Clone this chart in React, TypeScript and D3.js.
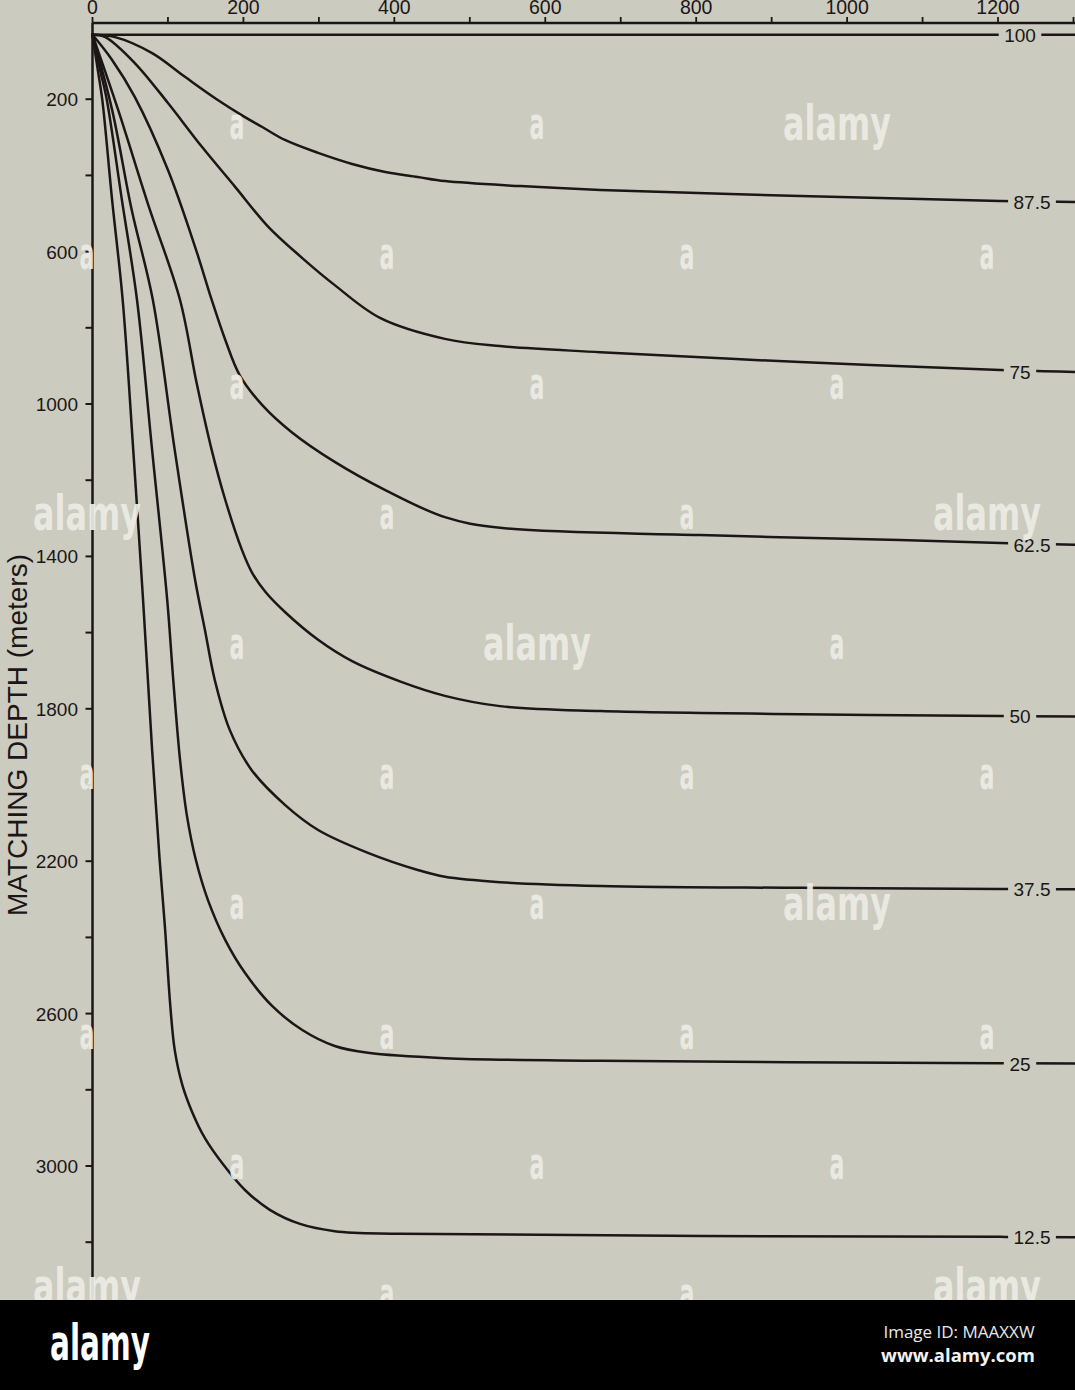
import React from "react";
import * as d3 from "d3";

// ---- data (x: horizontal distance units, depth: meters) ----
const CURVE_LABELS = ["100", "87.5", "75", "62.5", "50", "37.5", "25", "12.5"];

const C100 = [[0, 31], [1310, 31]];
const C875 = [[0, 31], [30, 37], [79, 79], [123, 142], [166, 202], [202, 247], [225, 273], [255, 307], [299, 341], [344, 370], [388, 391], [431, 404], [467, 415], [567, 428], [673, 438], [938, 454], [1203, 467], [1310, 470]];
const C75 = [[0, 31], [17, 37], [56, 105], [100, 210], [145, 325], [189, 430], [233, 535], [278, 617], [321, 688], [381, 774], [467, 829], [540, 848], [673, 864], [938, 890], [1203, 911], [1310, 916]];
const C625 = [[0, 31], [26, 97], [56, 194], [100, 386], [136, 588], [158, 727], [176, 832], [195, 924], [225, 1003], [264, 1074], [321, 1152], [388, 1226], [467, 1297], [540, 1325], [805, 1344], [1070, 1357], [1203, 1365], [1310, 1370]];
const C50 = [[0, 31], [34, 228], [74, 478], [116, 727], [138, 945], [158, 1121], [176, 1252], [198, 1383], [211, 1441], [229, 1493], [255, 1546], [299, 1619], [344, 1675], [410, 1730], [467, 1766], [540, 1793], [673, 1806], [938, 1814], [1203, 1819], [1310, 1820]];
const C375 = [[0, 31], [26, 228], [52, 491], [80, 727], [109, 1121], [136, 1462], [149, 1593], [162, 1724], [182, 1856], [211, 1961], [255, 2052], [299, 2118], [365, 2178], [431, 2223], [467, 2241], [540, 2255], [673, 2265], [938, 2270], [1203, 2273], [1310, 2274]];
const C25 = [[0, 31], [10, 123], [19, 202], [39, 465], [59, 727], [79, 1121], [99, 1514], [107, 1724], [116, 1934], [125, 2079], [137, 2197], [153, 2302], [176, 2407], [202, 2493], [238, 2580], [278, 2643], [321, 2685], [365, 2703], [467, 2717], [673, 2724], [1203, 2730], [1310, 2731]];
const C125 = [[0, 31], [7, 123], [13, 202], [26, 465], [40, 727], [54, 1121], [67, 1514], [79, 1908], [89, 2197], [96, 2373], [103, 2577], [109, 2696], [119, 2787], [132, 2858], [149, 2927], [172, 2993], [202, 3063], [235, 3115], [275, 3152], [321, 3171], [408, 3178], [1203, 3186], [1310, 3187]];

const CURVES = [C100, C875, C75, C625, C50, C375, C25, C125];

const X_MAJOR = [0, 200, 400, 600, 800, 1000, 1200];
const X_ALL = [0, 100, 200, 300, 400, 500, 600, 700, 800, 900, 1000, 1100, 1200, 1300];
const Y_MAJOR = [200, 600, 1000, 1400, 1800, 2200, 2600, 3000];
const Y_MINOR = [400, 800, 1200, 1600, 2000, 2400, 2800, 3200];
const Y_TITLE = "MATCHING DEPTH (meters)";

// watermark overlay (stock-photo marks on the scan)
const WM_A_ODD_COLS = [237, 537, 837];
const WM_A_EVEN_COLS = [87, 387, 687, 987];
const WM_ODD_ROWS = [127, 387, 647, 907, 1167];
const WM_EVEN_ROWS = [257, 517, 777, 1037, 1297];
const WM_WORDS = [[837, 127], [837, 907], [537, 647], [87, 517], [987, 517], [87, 1290], [987, 1290]];

const W = 1075;
const H = 1390;
const BG = "#cbcbbf";
const INK = "#1c1616";
const FONT = "'Liberation Sans', Arial, sans-serif";
const WM_FONT = "'Liberation Sans Narrow', 'DejaVu Sans Condensed', 'Liberation Sans', sans-serif";

export default function App() {
  const x = d3.scaleLinear().domain([0, 1300]).range([92.5, 1073.5]);
  const y = d3.scaleLinear().domain([0, 3400]).range([23, 23 + 0.381 * 3400]);
  const line = d3
    .line<number[]>()
    .x((d) => x(d[0]))
    .y((d) => y(d[1]))
    .curve(d3.curveCatmullRom.alpha(0.5));

  const isWord = (cx: number, cy: number) =>
    WM_WORDS.some(([wx, wy]) => Math.abs(wx - cx) < 5 && Math.abs(wy - cy) < 15);

  const aMarks: number[][] = [];
  WM_A_ODD_COLS.forEach((cx) => WM_ODD_ROWS.forEach((cy) => { if (!isWord(cx, cy)) aMarks.push([cx, cy]); }));
  WM_A_EVEN_COLS.forEach((cx) => WM_EVEN_ROWS.forEach((cy) => { if (!isWord(cx, cy)) aMarks.push([cx, cy]); }));

  return (
    <svg
      width={W}
      height={H}
      viewBox={`0 0 ${W} ${H}`}
      style={{ position: "absolute", left: 0, top: 0, display: "block" }}
    >
      <rect x={0} y={0} width={W} height={H} fill={BG} />

      {/* top axis */}
      <line x1={x(0)} x2={W} y1={y(0)} y2={y(0)} stroke={INK} strokeWidth={2.5} />
      {X_ALL.map((t) => (
        <line key={"xt" + t} x1={x(t)} x2={x(t)} y1={y(0)} y2={y(0) - 6} stroke={INK} strokeWidth={1.8} />
      ))}
      {X_MAJOR.map((t) => (
        <text key={"xl" + t} x={x(t)} y={14} textAnchor="middle" fontFamily={FONT} fontSize={19.5} fill={INK}>
          {t}
        </text>
      ))}

      {/* left axis */}
      <line x1={x(0)} x2={x(0)} y1={y(0)} y2={H} stroke={INK} strokeWidth={2.5} />
      {[...Y_MAJOR, ...Y_MINOR].map((t) => (
        <line key={"yt" + t} x1={x(0) - 7} x2={x(0)} y1={y(t)} y2={y(t)} stroke={INK} strokeWidth={2} />
      ))}
      {Y_MAJOR.map((t) => (
        <text key={"yl" + t} x={78} y={y(t) + 7} textAnchor="end" fontFamily={FONT} fontSize={19} fill={INK}>
          {t}
        </text>
      ))}
      <text
        transform={`translate(17,735) rotate(-90)`}
        textAnchor="middle"
        dominantBaseline="central"
        fontFamily={FONT}
        fontSize={28}
        fill={INK}
      >
        {Y_TITLE}
      </text>

      {/* curves */}
      {CURVES.map((c, i) => (
        <path key={"c" + i} d={line(c) || ""} fill="none" stroke={INK} strokeWidth={2.5} strokeLinecap="round" />
      ))}

      {/* curve labels */}
      {CURVES.map((c, i) => {
        const lab = CURVE_LABELS[i];
        const ly = y(c[c.length - 1][1]);
        const cx = lab.length <= 3 ? 1020 : 1032;
        const w = lab.length * 10.2 - (lab.includes(".") ? 5 : 0);
        return (
          <g key={"l" + i}>
            <rect x={cx - w / 2 - 6} y={ly - 8} width={w + 12} height={16} fill={BG} />
            <text x={cx} y={ly + 7} textAnchor="middle" fontFamily={FONT} fontSize={19} fill={INK}>
              {lab}
            </text>
          </g>
        );
      })}

      {/* watermark overlay */}
      <g fill="#ecece6" opacity={0.92} fontFamily={WM_FONT} fontWeight={700}>
        {aMarks.map(([cx, cy], i) => (
          <text key={"wa" + i} x={cx} y={cy + 12} textAnchor="middle" fontSize={44} textLength={15} lengthAdjust="spacingAndGlyphs">
            a
          </text>
        ))}
        {WM_WORDS.map(([cx, cy], i) => (
          <text key={"ww" + i} x={cx} y={cy + 13} textAnchor="middle" fontSize={48} textLength={108} lengthAdjust="spacingAndGlyphs">
            alamy
          </text>
        ))}
      </g>

      {/* bottom banner */}
      <rect x={0} y={1300} width={W} height={H - 1300} fill="#000" />
      <text x={50} y={1360} fontFamily={WM_FONT} fontWeight={700} fontSize={50} fill="#fff" textLength={100} lengthAdjust="spacingAndGlyphs">
        alamy
      </text>
      <text x={959} y={1338} textAnchor="middle" fontFamily="'Open Sans', sans-serif" fontSize={17} fill="#e8e8e8">
        Image ID: MAAXXW
      </text>
      <text x={958} y={1362} textAnchor="middle" fontFamily="'Open Sans', sans-serif" fontWeight={700} fontSize={18.5} fill="#f2f2f2">
        www.alamy.com
      </text>
    </svg>
  );
}
